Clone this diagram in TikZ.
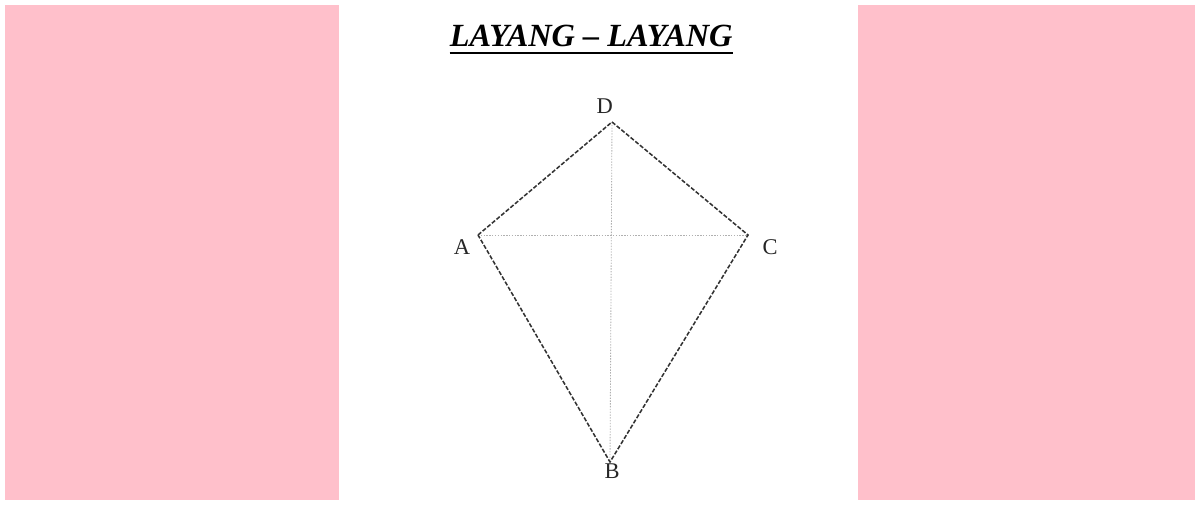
\documentclass[tikz,border=0pt]{standalone}
\usepackage{fontspec}
\setmainfont{Liberation Serif}
\usepackage{xcolor}
\usetikzlibrary{positioning, calc}
\definecolor{bandpink}{HTML}{FFC0CB}
\definecolor{edgegray}{HTML}{333333}
\definecolor{diaggray}{HTML}{B0B0B0}

\begin{document}
\begin{tikzpicture}[
    band/.style={fill=bandpink, draw=none},
    side/.style={edgegray, line width=1.1pt, dash pattern=on 3pt off 1.3pt},
    diag/.style={diaggray, line width=0.6pt, dash pattern=on 1pt off 1pt},
    vlabel/.style={font=\fontsize{16}{18}\selectfont, color=black!85, inner sep=0pt},
]
\useasboundingbox (0,0) rectangle (30,12.625);

% Pink side bands
\fill[band] (0.125,0.125) rectangle (8.475,12.5);
\fill[band] (21.45,0.125) rectangle (29.875,12.5);

% Title
\node[font=\fontsize{23}{25}\selectfont\bfseries\itshape, inner sep=0pt, anchor=base] (title) at (14.78,11.45) {LAYANG -- LAYANG};
\draw[line width=2pt] ($(title.base west)+(0,-0.15)$) -- ($(title.base east)+(0,-0.15)$);

% Kite corners
\coordinate (D) at (15.3,9.575);
\coordinate (A) at (11.95,6.75);
\coordinate (C) at (18.7,6.75);
\coordinate (B) at (15.25,1.075);

% Diagonals
\draw[diag] (A) -- (C);
\draw[diag] (D) -- (B);

% Sides
\draw[side] (A) -- (D) -- (C) -- (B) -- cycle;

% Corner labels
\node[vlabel] (lD) at (15.12,9.98) {D};
\node[vlabel] (lA) at (11.55,6.45) {A};
\node[vlabel] (lC) at (19.25,6.45) {C};
\node[vlabel] (lB) at (15.3,0.85) {B};

\end{tikzpicture}
\end{document}
